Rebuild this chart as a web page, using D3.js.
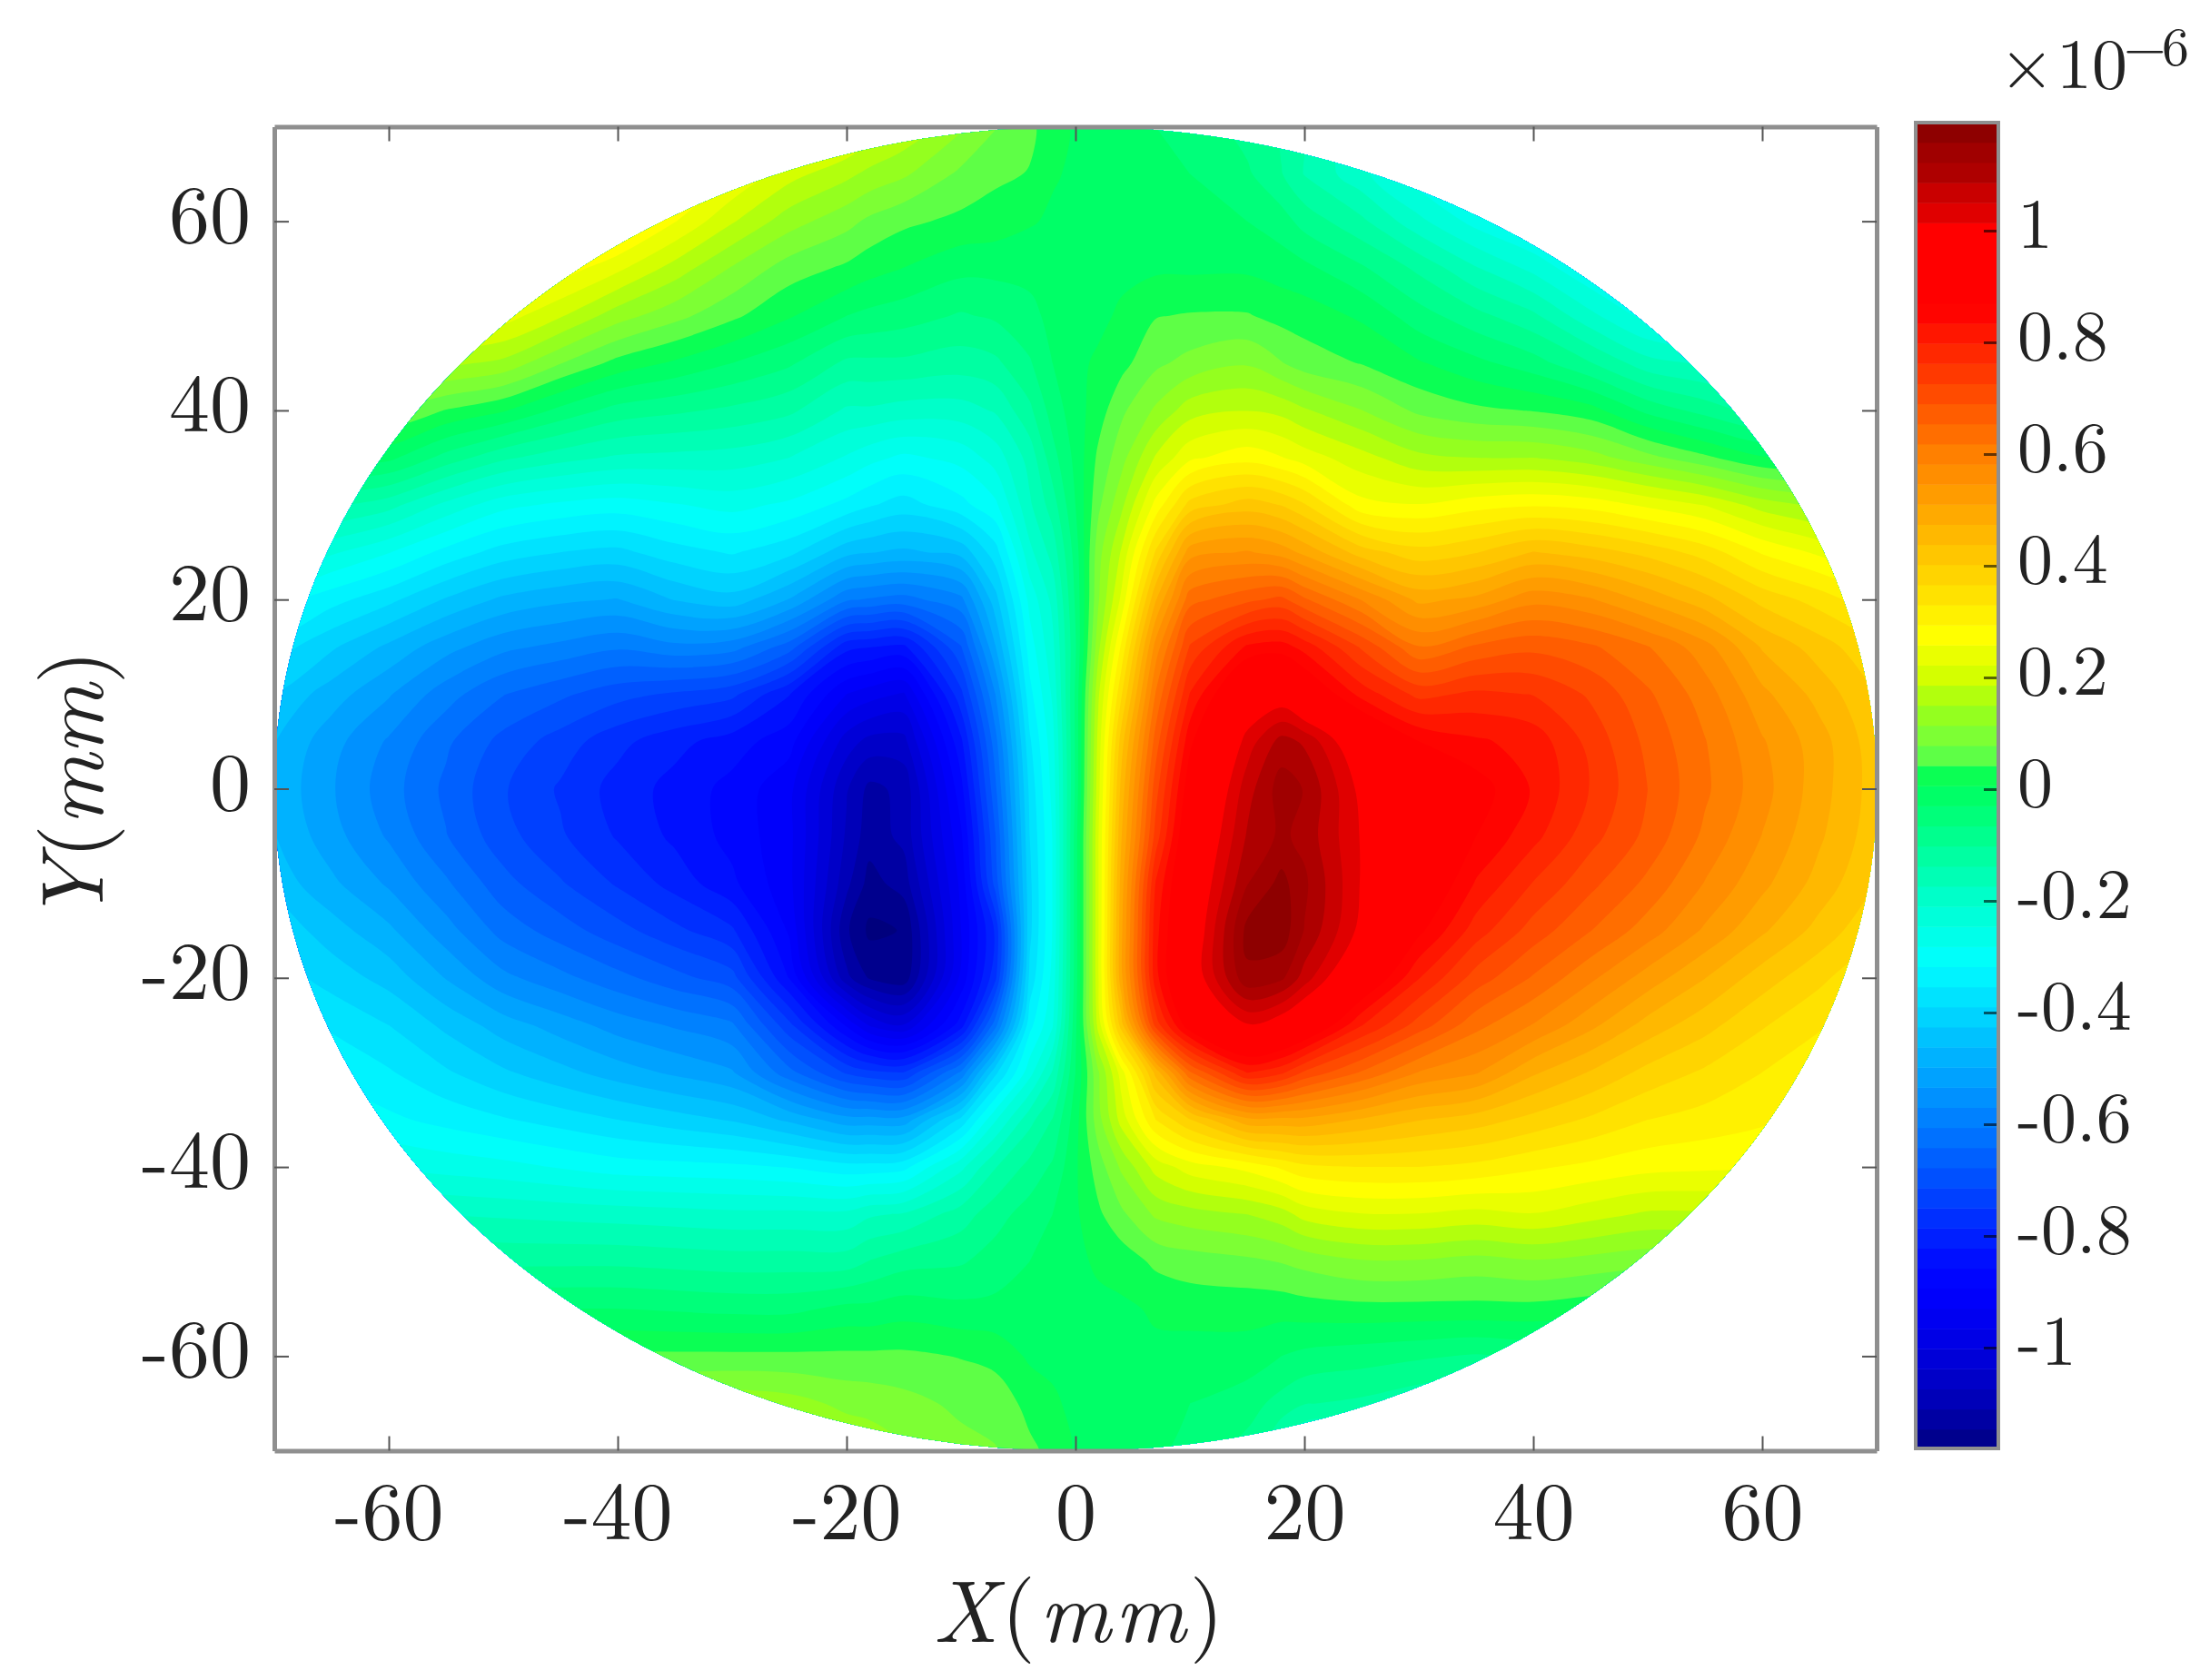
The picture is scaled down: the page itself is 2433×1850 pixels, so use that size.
<!DOCTYPE html>
<html><head><meta charset="utf-8">
<script src="https://cdn.jsdelivr.net/npm/d3@7/dist/d3.min.js"></script>
<style>
html,body{margin:0;padding:0;background:#fff}
svg{display:block;filter:blur(0.7px)}
</style></head><body>
<script>
// Field values (x 10^-6). Rows follow yGrid, columns follow xGrid.
const xGrid=[-70,-65,-60,-55,-50,-45,-40,-35,-30,-25,-20,-18,-15,-10,-7,-4,-2,0,2,4,7,10,15,18,20,25,30,35,40,45,50,55,60,65,70];
const yGrid=[70,65,60,55,50,45,40,35,30,25,20,15,10,5,0,-5,-10,-15,-20,-25,-30,-35,-40,-45,-50,-55,-60,-65,-70];
const fieldRows=[
[.45,.44,.42,.44,.45,.43,.40,.36,.32,.28,.24,.21,.18,.12,.08,.05,.02,0,0,-.01,-.03,-.05,-.08,-.11,-.14,-.2,-.28,-.33,-.38,-.42,-.45,-.48,-.5,-.5,-.5],
[.42,.41,.40,.41,.42,.39,.36,.31,.26,.20,.16,.14,.12,.07,.05,.04,.01,0,0,-.01,-.02,-.03,-.06,-.1,-.14,-.2,-.27,-.32,-.36,-.39,-.42,-.45,-.48,-.48,-.48],
[.38,.37,.35,.38,.40,.37,.33,.26,.19,.13,.09,.07,.05,.033,.025,.01,0,0,0,0,-.01,-.01,-.03,-.05,-.08,-.13,-.2,-.26,-.3,-.34,-.38,-.4,-.42,-.42,-.42],
[.33,.31,.30,.31,.32,.28,.23,.17,.11,.06,.035,.02,.005,-.02,-.02,-.02,-.01,0,0,0,0,0,0,-.01,-.02,-.06,-.11,-.17,-.22,-.28,-.33,-.36,-.38,-.38,-.38],
[.28,.26,.25,.25,.24,.19,.13,.09,.05,.01,-.03,-.04,-.05,-.07,-.06,-.04,-.02,0,0,.01,.04,.045,.045,.03,.025,0,-.05,-.09,-.13,-.2,-.26,-.28,-.3,-.32,-.33],
[.2,.18,.17,.16,.14,.08,.03,0,-.03,-.06,-.11,-.11,-.11,-.12,-.11,-.07,-.03,0,.01,.03,.07,.09,.11,.08,.06,.04,.01,-.02,-.05,-.1,-.16,-.18,-.2,-.22,-.25],
[.1,.09,.08,.04,.01,-.04,-.08,-.095,-.11,-.13,-.18,-.18,-.19,-.19,-.17,-.11,-.05,-.01,.025,.07,.12,.17,.185,.175,.155,.115,.07,.05,.04,.02,-.04,-.08,-.12,-.13,-.15],
[0,-.01,-.02,-.08,-.13,-.16,-.18,-.185,-.19,-.21,-.25,-.27,-.29,-.27,-.23,-.16,-.08,-.02,.05,.1,.19,.25,.28,.26,.24,.2,.16,.15,.15,.13,.09,.05,.01,0,-.02],
[-.1,-.13,-.16,-.22,-.27,-.29,-.3,-.285,-.27,-.29,-.33,-.35,-.37,-.33,-.29,-.18,-.12,-.03,.07,.14,.27,.38,.42,.4,.37,.27,.26,.28,.29,.28,.25,.22,.17,.14,.1],
[-.2,-.24,-.28,-.33,-.37,-.39,-.4,-.37,-.35,-.38,-.45,-.46,-.47,-.45,-.37,-.22,-.16,-.05,.1,.19,.37,.53,.55,.53,.5,.42,.38,.4,.44,.42,.39,.35,.29,.25,.2],
[-.3,-.34,-.38,-.43,-.47,-.49,-.5,-.46,-.44,-.5,-.6,-.61,-.62,-.58,-.44,-.27,-.2,-.06,.11,.23,.47,.64,.68,.7,.66,.58,.5,.52,.57,.55,.5,.45,.39,.35,.3],
[-.37,-.42,-.47,-.52,-.56,-.58,-.6,-.58,-.59,-.66,-.81,-.82,-.83,-.68,-.5,-.3,-.22,-.07,.14,.3,.56,.73,.84,.85,.82,.72,.62,.66,.68,.66,.62,.56,.47,.42,.37],
[-.43,-.48,-.53,-.59,-.64,-.67,-.7,-.72,-.74,-.82,-.93,-.95,-.97,-.76,-.57,-.33,-.24,-.06,.18,.36,.62,.8,.96,.98,.93,.82,.75,.77,.76,.72,.66,.6,.52,.46,.4],
[-.46,-.52,-.575,-.635,-.69,-.73,-.775,-.81,-.84,-.88,-1.02,-1.05,-1.05,-.83,-.62,-.36,-.26,-.06,.2,.42,.67,.86,1.03,1.1,1.08,.96,.87,.84,.82,.75,.68,.62,.55,.49,.415],
[-.47,-.53,-.59,-.65,-.71,-.755,-.8,-.835,-.87,-.92,-1.07,-1.12,-1.1,-.87,-.65,-.38,-.27,-.06,.21,.45,.71,.9,1.07,1.14,1.12,1.0,.95,.89,.83,.76,.69,.625,.56,.49,.42],
[-.46,-.52,-.575,-.64,-.7,-.745,-.79,-.83,-.87,-.92,-1.08,-1.13,-1.1,-.9,-.68,-.39,-.28,-.05,.22,.47,.74,.93,1.09,1.13,1.11,1.01,.94,.87,.81,.74,.68,.61,.545,.48,.415],
[-.44,-.49,-.54,-.6,-.665,-.71,-.755,-.8,-.85,-.92,-1.1,-1.16,-1.13,-.92,-.7,-.4,-.28,-.05,.22,.49,.8,.95,1.12,1.17,1.13,1.01,.93,.83,.76,.7,.645,.58,.52,.46,.4],
[-.4,-.445,-.49,-.555,-.62,-.66,-.7,-.74,-.78,-.9,-1.14,-1.19,-1.18,-.93,-.78,-.4,-.28,-.05,.22,.5,.82,.96,1.17,1.18,1.12,1.0,.88,.78,.71,.655,.6,.54,.48,.425,.37],
[-.37,-.405,-.44,-.5,-.56,-.595,-.63,-.665,-.7,-.86,-1.1,-1.15,-1.17,-.92,-.76,-.38,-.27,-.05,.22,.5,.82,.97,1.15,1.13,1.07,.93,.8,.71,.65,.59,.53,.475,.42,.375,.33],
[-.33,-.36,-.39,-.435,-.48,-.515,-.55,-.575,-.6,-.74,-.9,-.97,-1.0,-.84,-.62,-.33,-.25,-.04,.2,.42,.74,.9,1.01,.98,.94,.8,.71,.63,.58,.52,.46,.415,.37,.335,.3],
[-.3,-.325,-.35,-.385,-.42,-.45,-.48,-.505,-.53,-.63,-.72,-.74,-.75,-.6,-.4,-.26,-.17,-.03,.11,.24,.45,.65,.8,.77,.72,.65,.58,.55,.48,.435,.39,.36,.33,.3,.27],
[-.27,-.29,-.31,-.33,-.35,-.37,-.39,-.41,-.43,-.47,-.52,-.52,-.52,-.38,-.25,-.15,-.1,-.01,.1,.2,.33,.4,.5,.5,.5,.47,.44,.42,.39,.36,.33,.315,.3,.275,.25],
[-.22,-.235,-.25,-.26,-.27,-.285,-.3,-.305,-.31,-.32,-.34,-.34,-.33,-.22,-.14,-.09,-.06,0,.06,.12,.2,.24,.27,.3,.32,.33,.33,.32,.3,.285,.27,.265,.26,.24,.22],
[-.15,-.16,-.17,-.175,-.18,-.185,-.19,-.195,-.2,-.2,-.2,-.18,-.17,-.12,-.08,-.05,-.03,0,.035,.07,.12,.135,.15,.17,.2,.22,.22,.21,.22,.2,.18,.18,.18,.17,.16],
[-.1,-.1,-.1,-.105,-.11,-.11,-.11,-.115,-.12,-.12,-.12,-.1,-.08,-.07,-.05,-.03,-.02,0,.01,.02,.05,.06,.07,.08,.09,.11,.11,.1,.11,.1,.09,.095,.1,.095,.09],
[-.05,-.045,-.04,-.035,-.03,-.03,-.03,-.035,-.04,-.04,-.02,-.02,-.01,-.02,-.02,-.02,-.01,0,0,0,.01,.02,.02,.02,.025,.03,.03,.03,.03,.02,.01,.015,.02,.02,.02],
[0,.01,.02,.03,.04,.045,.05,.05,.05,.05,.05,.05,.05,.04,.03,0,0,0,0,0,0,-.01,-.01,-.03,-.04,-.05,-.06,-.07,-.06,-.07,-.08,-.08,-.08,-.08,-.08],
[.04,.05,.06,.07,.08,.1,.12,.13,.14,.13,.104,.1,.09,.07,.065,.03,.01,0,0,-.01,-.01,-.03,-.05,-.08,-.1,-.11,-.13,-.15,-.15,-.155,-.16,-.16,-.16,-.16,-.16],
[.08,.09,.1,.105,.11,.15,.2,.2,.2,.18,.15,.14,.12,.09,.08,.05,.03,0,-.01,-.01,-.02,-.05,-.08,-.15,-.2,-.2,-.22,-.24,-.25,-.25,-.25,-.25,-.25,-.25,-.25]
];
// Colour map stops.
const cmapValues=[-1.19,-1.1,-1.0,-.9,-.85,-.31,-.2,-.08,.02,.05,.1,.15,.2,.275,.6,.82,.86,1.0,1.03,1.07,1.1,1.14,1.19];
const cmapColors=["#00007d","#0000b4","#0000e1","#0000ff","#000aff","#00ffff","#00ffcd","#00ff8c","#00ff55","#55ff4b","#80ff32","#a0ff14","#d2ff00","#ffff00","#ff8000","#ff1400","#ff0000","#ff0000","#e10000","#c80000","#af0000","#a00000","#870000"];
const levelStep=.036, levelBase=.042;
const levelIndex=d3.range(-34,32);
const axisTicks=[-60,-40,-20,0,20,40,60];
const barTicks=[-1,-.8,-.6,-.4,-.2,0,.2,.4,.6,.8,1];

const W=2433,H=1850,gray="#8f8f8f",tickC="#555",FF='"Latin Modern Roman","Liberation Serif"',ink="#222";
const svg=d3.select("body").append("svg").attr("width",W).attr("height",H).attr("viewBox",[0,0,W,H]);
const x=d3.scaleLinear().domain([-70,70]).range([302,2066]);
const y=d3.scaleLinear().domain([-70,70]).range([1597.5,139.5]);
const cmap=d3.scaleLinear().domain(cmapValues).range(cmapColors).clamp(true);
const levels=levelIndex.map(k=>levelBase+k*levelStep);

// filled contours
const nx=xGrid.length,ny=yGrid.length;
const colIdx=d3.scaleLinear().domain(xGrid.map((d,i)=>i+.5)).range(xGrid.map(x)).clamp(true);
const rowIdx=d3.scaleLinear().domain(yGrid.map((d,i)=>i+.5)).range(yGrid.map(y)).clamp(true);
const contours=d3.contours().size([nx,ny]).thresholds(levels)(fieldRows.flat());
const ringLine=d3.line().curve(d3.curveCatmullRomClosed.alpha(.5));

const defs=svg.append("defs");
defs.append("clipPath").attr("id","disc").append("ellipse")
  .attr("cx",x(0)).attr("cy",y(0)).attr("rx",x(70)-x(0)).attr("ry",y(0)-y(70));
const plot=svg.append("g").attr("clip-path","url(#disc)");
plot.append("rect").attr("x",x(-70)).attr("y",y(70)).attr("width",x(70)-x(-70)).attr("height",y(-70)-y(70))
  .attr("fill",cmap(levels[0]-levelStep/2));
plot.selectAll("path").data(contours).join("path")
  .attr("fill-rule","evenodd")
  .attr("fill",d=>cmap(d.value+levelStep/2))
  .attr("d",d=>d.coordinates.flatMap(poly=>poly.map(ring=>
     ringLine(ring.slice(0,-1).map(p=>[colIdx(p[0]),rowIdx(p[1])])))).join(""));

// axes
function styleAxis(g){
  g.select(".domain").attr("stroke",gray).attr("stroke-width",5).attr("fill","none");
  g.selectAll(".tick line").attr("stroke",tickC).attr("stroke-width",2);
  g.selectAll("text").style("font-family",FF).style("font-size","90px").style("fill",ink);
}
const fmt=d=>String(d);
svg.append("g").attr("transform",`translate(0,${y(-70)})`)
  .call(d3.axisBottom(x).tickValues(axisTicks).tickFormat(fmt).tickSizeInner(-16).tickSizeOuter(0).tickPadding(34)).call(styleAxis)
  .selectAll("text").attr("dy","0.71em");
svg.append("g").attr("transform",`translate(0,${y(70)})`)
  .call(d3.axisTop(x).tickValues(axisTicks).tickFormat("").tickSizeInner(-16).tickSizeOuter(0)).call(styleAxis);
svg.append("g").attr("transform",`translate(${x(-70)},0)`)
  .call(d3.axisLeft(y).tickValues(axisTicks).tickFormat(fmt).tickSizeInner(-16).tickSizeOuter(0).tickPadding(26)).call(styleAxis)
  .selectAll("text").attr("dy","0.25em");
svg.append("g").attr("transform",`translate(${x(70)},0)`)
  .call(d3.axisRight(y).tickValues(axisTicks).tickFormat("").tickSizeInner(-16).tickSizeOuter(0)).call(styleAxis);

// axis titles
function mathLabel(sel,letter){
  sel.style("font-family",FF).style("fill",ink).style("font-size","96px").attr("text-anchor","middle");
  sel.append("tspan").attr("font-style","italic").text(letter);
  sel.append("tspan").text("(");
  sel.append("tspan").attr("font-style","italic").text("mm");
  sel.append("tspan").text(")");
}
svg.append("text").attr("x",1187).attr("y",1808).attr("textLength",320).attr("lengthAdjust","spacing").call(mathLabel,"X");
svg.append("text").attr("transform","translate(113,866) rotate(-90)").attr("textLength",300).attr("lengthAdjust","spacing").call(mathLabel,"Y");

// colour bar
const barX=2109,barW=90;
const cy=d3.scaleLinear().domain([-1,1]).range([869+615,869-615]);
const barEdges=[cy.invert(1595),...levels.filter(l=>l>cy.invert(1595)&&l<cy.invert(135)),cy.invert(135)];
const bar=svg.append("g");
bar.selectAll("rect").data(d3.pairs(barEdges)).join("rect")
  .attr("x",barX).attr("width",barW)
  .attr("y",d=>cy(d[1])).attr("height",d=>cy(d[0])-cy(d[1])+.5)
  .attr("fill",d=>cmap((d[0]+d[1])/2));
const barAxis=svg.append("g").attr("transform",`translate(${barX+barW},0)`)
  .call(d3.axisRight(cy).tickValues(barTicks).tickFormat(d=>String(d)).tickSizeInner(-15).tickSizeOuter(0).tickPadding(22));
barAxis.select(".domain").remove();
barAxis.selectAll(".tick line").attr("stroke","#000").attr("stroke-opacity",.6).attr("stroke-width",3);
barAxis.selectAll("text").style("font-family",FF).style("font-size","78px").style("fill",ink).attr("dy","0.24em");
svg.append("rect").attr("x",barX).attr("y",135).attr("width",barW+1).attr("height",1460)
  .attr("fill","none").attr("stroke",gray).attr("stroke-width",4);

// scale factor
const sf=svg.append("g").style("font-family",FF).style("fill",ink);
sf.append("text").attr("x",2201).attr("y",97).style("font-size","78px").text("×");
sf.append("text").attr("x",2264).attr("y",97).style("font-size","78px").text("10");
sf.append("text").attr("x",2338).attr("y",72).style("font-size","60px").text("−");
sf.append("text").attr("x",2380).attr("y",72).style("font-size","60px").text("6");
</script>
</body></html>
